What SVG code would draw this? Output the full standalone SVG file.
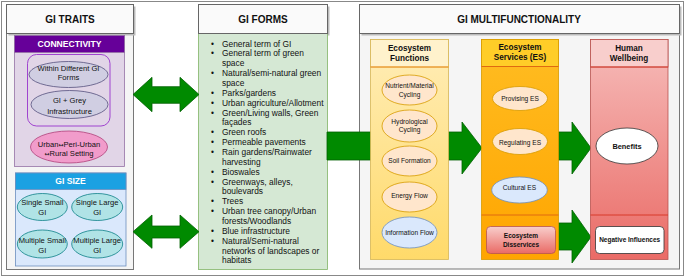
<svg xmlns="http://www.w3.org/2000/svg" width="685" height="277" viewBox="0 0 685 277">
<style>
text{font-family:"Liberation Sans",Arial,Helvetica,sans-serif;fill:#111}
.t{font-size:10px;font-weight:bold;text-anchor:middle}
.hw{font-size:8.6px;font-weight:bold;text-anchor:middle;fill:#fff}
.e{font-size:7.6px;text-anchor:middle}
.s{font-size:6.6px;text-anchor:middle}
.h{font-size:8.2px;font-weight:bold;text-anchor:middle}
.b{font-size:6.5px;font-weight:bold;text-anchor:middle}
.li{font-size:8.4px}
.panel{fill:#f5f5f5;stroke:#777;stroke-width:1}
.title{fill:#fafafa;stroke:#666;stroke-width:1}
.shadow{fill:#bbb}
.arrow{fill:#008a00;stroke:#006000;stroke-width:0.8}
.cream{fill:#ffe6cc;stroke:#d79b00;stroke-width:0.8}
.blue{fill:#dae8fc;stroke:#6c8ebf;stroke-width:0.8}
.teal{fill:#b0e3e6;stroke:#0e8088;stroke-width:0.8}
.lav{fill:#d0cee2;stroke:#56517e;stroke-width:0.8}
</style>
<defs>
<linearGradient id="gFunc" x1="0" y1="0" x2="0" y2="1"><stop offset="0" stop-color="#ffedb8"/><stop offset="1" stop-color="#ffda6a"/></linearGradient>
<linearGradient id="gES" x1="0" y1="0" x2="0" y2="1"><stop offset="0" stop-color="#ffbd22"/><stop offset="1" stop-color="#ffa500"/></linearGradient>
<linearGradient id="gWB" x1="0" y1="0" x2="0" y2="1"><stop offset="0" stop-color="#f6bcba"/><stop offset="1" stop-color="#ea6b66"/></linearGradient>
<linearGradient id="gDis" x1="0" y1="0" x2="0" y2="1"><stop offset="0" stop-color="#f8cecc"/><stop offset="1" stop-color="#ea6b66"/></linearGradient>
</defs>
<rect x="0" y="0" width="685" height="277" fill="#fff"/>
<rect x="1.5" y="1.5" width="682" height="274" fill="none" stroke="#888" stroke-width="1"/>

<g id="gi-traits">
<rect class="panel" x="6.5" y="4.5" width="127" height="265"/>
<rect class="shadow" x="8.5" y="6.5" width="127" height="29"/>
<rect class="title" x="6.5" y="4.5" width="127" height="29"/>
<text class="t" x="70" y="23">GI TRAITS</text>
</g>

<g id="connectivity">
<rect x="14.5" y="35.5" width="110" height="131" fill="#e1d5e7" stroke="#9673a6" stroke-width="0.8"/>
<rect x="14.5" y="35.5" width="110" height="17" fill="#660099" stroke="#9673a6" stroke-width="0.8"/>
<text class="hw" x="69.5" y="47.3">CONNECTIVITY</text>
<rect x="27.5" y="54.5" width="82.5" height="71.5" rx="9" fill="#e1d5e7" stroke="#9933cc" stroke-width="0.9"/>
<ellipse class="lav" cx="68.5" cy="74.5" rx="39.5" ry="13"/>
<text class="e" x="68.5" y="70.5">Within Different GI</text>
<text class="e" x="68.5" y="80.2">Forms</text>
<ellipse class="lav" cx="69.5" cy="104.5" rx="38.5" ry="14"/>
<text class="e" x="69.5" y="103.3">GI + Grey</text>
<text class="e" x="69.5" y="113.5">Infrastructure</text>
<ellipse cx="69" cy="147" rx="38.5" ry="16" fill="#f19ccb" stroke="#b0407a" stroke-width="0.8"/>
<text class="e" x="69" y="146.6">Urban<tspan style="font-family:'DejaVu Sans',sans-serif;font-size:6px">↔</tspan>Peri-Urban</text>
<text class="e" x="69" y="156"><tspan style="font-family:'DejaVu Sans',sans-serif;font-size:6px">↔</tspan>Rural Setting</text>
</g>

<g id="gi-size">
<rect x="15.5" y="173" width="110.5" height="93" fill="#dae8fc" stroke="#6c8ebf" stroke-width="0.8"/>
<rect x="15.5" y="173" width="110.5" height="16.5" fill="#1ba1e2" stroke="#6c8ebf" stroke-width="0.8"/>
<text class="hw" x="70.5" y="184.4">GI SIZE</text>
<ellipse class="teal" cx="42.3" cy="207" rx="25" ry="13.5"/>
<text class="e" x="42.3" y="205">Single Small</text>
<text class="e" x="42.3" y="214.5">GI</text>
<ellipse class="teal" cx="97.2" cy="207" rx="25.5" ry="13.5"/>
<text class="e" x="97.2" y="205">Single Large</text>
<text class="e" x="97.2" y="214.5">GI</text>
<ellipse class="teal" cx="42.3" cy="244" rx="25" ry="14"/>
<text class="e" x="42.3" y="243">Multiple Small</text>
<text class="e" x="42.3" y="252.5">GI</text>
<ellipse class="teal" cx="97.2" cy="244" rx="25.5" ry="14"/>
<text class="e" x="97.2" y="243">Multiple Large</text>
<text class="e" x="97.2" y="252.5">GI</text>
</g>

<g id="gi-forms">
<rect class="shadow" x="200.5" y="6.5" width="129" height="29"/>
<rect x="198.5" y="33.5" width="129" height="236" fill="#d5e8d4" stroke="#82b366" stroke-width="0.8"/>
<rect class="title" x="198.5" y="4.5" width="129" height="29"/>
<text class="t" x="263" y="23">GI FORMS</text>
<g class="li">
<text x="211" y="46.5">•</text><text x="222" y="46.5">General term of GI</text>
<text x="211" y="56.4">•</text><text x="222" y="56.4">General term of green</text>
<text x="222" y="66.2">space</text>
<text x="211" y="76.1">•</text><text x="222" y="76.1">Natural/semi-natural green</text>
<text x="222" y="85.9">space</text>
<text x="211" y="95.8">•</text><text x="222" y="95.8">Parks/gardens</text>
<text x="211" y="105.7">•</text><text x="222" y="105.7">Urban agriculture/Allotment</text>
<text x="211" y="115.5">•</text><text x="222" y="115.5">Green/Living walls, Green</text>
<text x="222" y="125.4">façades</text>
<text x="211" y="135.2">•</text><text x="222" y="135.2">Green roofs</text>
<text x="211" y="145.1">•</text><text x="222" y="145.1">Permeable pavements</text>
<text x="211" y="155">•</text><text x="222" y="155">Rain gardens/Rainwater</text>
<text x="222" y="164.8">harvesting</text>
<text x="211" y="174.7">•</text><text x="222" y="174.7">Bioswales</text>
<text x="211" y="184.5">•</text><text x="222" y="184.5">Greenways, alleys,</text>
<text x="222" y="194.4">boulevards</text>
<text x="211" y="204.3">•</text><text x="222" y="204.3">Trees</text>
<text x="211" y="214.1">•</text><text x="222" y="214.1">Urban tree canopy/Urban</text>
<text x="222" y="224">forests/Woodlands</text>
<text x="211" y="233.8">•</text><text x="222" y="233.8">Blue infrastructure</text>
<text x="211" y="243.7">•</text><text x="222" y="243.7">Natural/Semi-natural</text>
<text x="222" y="253.6">networks of landscapes or</text>
<text x="222" y="263.4">habitats</text>
</g>
</g>

<g id="gi-multifunctionality">
<rect class="panel" x="359.5" y="4.5" width="320" height="264.5"/>
<rect class="shadow" x="361.5" y="6.5" width="320" height="29"/>
<rect class="title" x="359.5" y="4.5" width="320" height="29"/>
<text class="t" x="519" y="23">GI MULTIFUNCTIONALITY</text>
</g>

<g id="connectors">
<polygon class="arrow" points="133,94.5 152,77.3 152,86.7 180,86.7 180,77.3 199,94.5 180,111.7 180,103.3 152,103.3 152,111.7"/>
<polygon class="arrow" points="133,231.7 152,215 152,226 180,226 180,215 199,231.7 180,248.3 180,238 152,238 152,248.3"/>
<polygon class="arrow" points="327,132 462,132 462,122 482,148 462,174 462,160 327,160"/>
<polygon class="arrow" points="558,132 572,132 572,122 591,148 572,174 572,160 558,160"/>
<polygon class="arrow" points="555,223 572,223 572,210 591,237 572,263 572,250 555,250"/>
</g>

<g id="ecosystem-functions">
<rect x="370.5" y="39.5" width="78" height="220" fill="url(#gFunc)" stroke="#d6b656" stroke-width="0.8"/>
<rect x="370.5" y="39.5" width="78" height="27.5" fill="#fff2cc" stroke="#d6b656" stroke-width="0.8"/>
<line x1="370.5" y1="67" x2="448.5" y2="67" stroke="#ee8a1a" stroke-width="1"/>
<text class="h" x="409.5" y="51">Ecosystem</text>
<text class="h" x="409.5" y="61.3">Functions</text>
<ellipse class="cream" cx="409.5" cy="90" rx="27.5" ry="15"/>
<text class="s" x="409.5" y="88.3">Nutrient/Material</text>
<text class="s" x="409.5" y="96.6">Cycling</text>
<ellipse class="cream" cx="409.5" cy="126" rx="27.5" ry="16"/>
<text class="s" x="409.5" y="124">Hydrological</text>
<text class="s" x="409.5" y="132.3">Cycling</text>
<ellipse class="cream" cx="409.5" cy="161" rx="27.5" ry="15"/>
<text class="s" x="409.5" y="163">Soil Formation</text>
<ellipse class="cream" cx="409.5" cy="197" rx="27.5" ry="15"/>
<text class="s" x="409.5" y="198.3">Energy Flow</text>
<ellipse class="blue" cx="409.5" cy="232.5" rx="27.5" ry="15.5"/>
<text class="s" x="409.5" y="234.6">Information Flow</text>
</g>

<g id="ecosystem-services">
<rect x="481.5" y="39.5" width="77" height="220" fill="url(#gES)" stroke="#d79b00" stroke-width="0.8"/>
<rect x="481.5" y="39.5" width="77" height="27" fill="#ffcd28" stroke="#d79b00" stroke-width="0.8"/>
<line x1="481.5" y1="66.5" x2="558.5" y2="66.5" stroke="#e06a10" stroke-width="1"/>
<line x1="481.5" y1="215" x2="558.5" y2="215" stroke="#e06a10" stroke-width="1"/>
<text class="h" x="520" y="49.5">Ecosystem</text>
<text class="h" x="520" y="60">Services (ES)</text>
<ellipse class="cream" cx="520" cy="98.5" rx="27.5" ry="12"/>
<text class="s" x="520" y="100.6">Provising ES</text>
<ellipse class="cream" cx="520" cy="141.5" rx="27.5" ry="13"/>
<text class="s" x="520" y="144.6">Regulating ES</text>
<ellipse class="blue" cx="519.5" cy="190" rx="27.8" ry="13"/>
<text class="s" x="519.5" y="189.6">Cultural ES</text>
<rect x="486.5" y="226.5" width="69" height="27" rx="4" fill="url(#gDis)" stroke="#b85450" stroke-width="0.8"/>
<text class="b" x="521" y="238.4">Ecosystem</text>
<text class="b" x="521" y="246.7">Disservices</text>
</g>

<g id="human-wellbeing">
<rect x="590.5" y="39.5" width="77.5" height="220" fill="url(#gWB)" stroke="#b85450" stroke-width="0.8"/>
<rect x="590.5" y="39.5" width="77.5" height="27.5" fill="#f8cecc" stroke="#b85450" stroke-width="0.8"/>
<line x1="590.5" y1="67" x2="668" y2="67" stroke="#d83a2a" stroke-width="1"/>
<line x1="590.5" y1="215" x2="668" y2="215" stroke="#d83a2a" stroke-width="1"/>
<text class="h" x="629" y="51">Human</text>
<text class="h" x="629" y="61.3">Wellbeing</text>
<ellipse cx="627" cy="146" rx="31" ry="18" fill="#fff" stroke="#333" stroke-width="0.8"/>
<text x="627" y="149" style="font-size:7.4px;font-weight:bold;text-anchor:middle">Benefits</text>
<rect x="595.5" y="226.5" width="68.5" height="27" rx="4" fill="#fff" stroke="#333" stroke-width="0.8"/>
<text class="b" x="629.7" y="241.6">Negative Influences</text>
</g>
</svg>
